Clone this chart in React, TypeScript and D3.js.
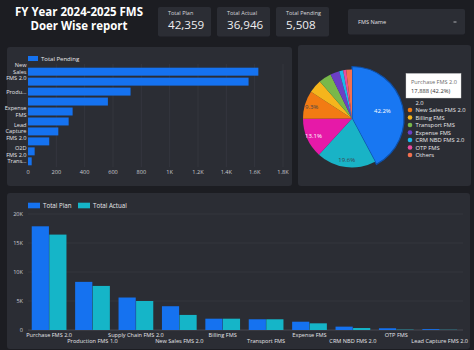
import * as d3 from "d3"

// bottom chart: plan vs actual per FMS
const categories = [
    "Purchase FMS 2.0",
    "Production FMS 1.0",
    "Supply Chain FMS 2.0",
    "New Sales FMS 2.0",
    "Billing FMS",
    "Transport FMS",
    "Expense FMS",
    "CRM NBD FMS 2.0",
    "OTP FMS",
    "Lead Capture FMS 2.0",
]
const totalPlan = [17880, 8300, 5600, 4100, 1950, 1850, 1430, 580, 300, 150]
const totalActual = [16450, 7600, 5000, 2600, 1950, 1850, 1150, 340, 60, 40]
const planTicks = [0, 5000, 10000, 15000, 20000]

// top-left chart: pending
const pendingCategories = [
    "New Sales FMS 2.0",
    "Purchase FMS 2.0",
    "Production FMS 1.0",
    "Supply Chain FMS 2.0",
    "Expense FMS",
    "CRM NBD FMS 2.0",
    "Lead Capture FMS 2.0",
    "Billing FMS",
    "O2D FMS 2.0",
    "Transport FMS",
]
const totalPending = [1626, 1557, 724, 564, 315, 287, 214, 150, 47, 26]
const pendingTickLabels = [
    ["New", "Sales", "FMS 2.0"],
    [],
    ["Produ..."],
    [],
    ["Expense", "FMS"],
    [],
    ["Lead", "Capture", "FMS 2.0"],
    [],
    ["O2D", "FMS 2.0"],
    ["Trans..."],
]
const pendingTicks = [0, 200, 400, 600, 800, 1000, 1200, 1400, 1600, 1800]

// pie: share of plan
const pieNames = [
    "Purchase FMS 2.0",
    "Production FMS 1.0",
    "Supply Chain FMS 2.0",
    "New Sales FMS 2.0",
    "Billing FMS",
    "Transport FMS",
    "Expense FMS",
    "CRM NBD FMS 2.0",
    "OTP FMS",
    "Others",
]
const pieShare = [42.2, 19.6, 13.1, 9.3, 4.4, 4.2, 3.0, 1.3, 1.0, 1.9]
const pieColors = [
    "#1877f2",
    "#19b3c6",
    "#e619a8",
    "#f27b13",
    "#f5b51c",
    "#78b84a",
    "#6b3fc6",
    "#1cb8ea",
    "#ea4b9e",
    "#f2704f",
]
const darkLabel = new Set([1, 3])

const kpis = [
    { label: "Total Plan", value: "42,359" },
    { label: "Total Actual", value: "36,946" },
    { label: "Total Pending", value: "5,508" },
]

const FONT = "'Open Sans', 'Noto Sans', sans-serif"
const BG = "#1c1d22"
const PANEL = "#2b2d34"
const GRID = "#3a3c45"
const AXIS_TXT = "#c9cad0"
const BLUE = "#1572f0"
const TEAL = "#15b5c8"

const fmtK = (v: number) => (v >= 1000 ? `${+(v / 1000).toFixed(1)}K` : `${v}`)

function PendingChart() {
    const x = d3.scaleLinear().domain([0, 1800]).range([28, 283])
    const y = d3
        .scaleBand()
        .domain(pendingCategories)
        .range([66.7, 166.3])
        .paddingInner(0.2)
        .paddingOuter(0.1)

    return (
        <g>
            <rect x={7} y={47} width={285} height={139} rx={3} fill={PANEL} />
            <rect x={28} y={56} width={10} height={5} fill={BLUE} />
            <text x={41} y={61} fontSize={6} fill="#e8e8ea">
                Total Pending
            </text>
            {pendingTicks.map((t) => (
                <g key={t}>
                    {t > 0 && (
                        <line x1={x(t)} x2={x(t)} y1={64} y2={167} stroke={GRID} strokeWidth={0.6} />
                    )}
                    <text x={x(t)} y={174} fontSize={5.6} fill={AXIS_TXT} textAnchor="middle">
                        {fmtK(t)}
                    </text>
                </g>
            ))}
            {pendingCategories.map((c, i) => (
                <rect
                    key={c}
                    x={x(0)}
                    y={y(c) ?? 0}
                    width={x(totalPending[i]) - x(0)}
                    height={y.bandwidth()}
                    fill={BLUE}
                />
            ))}
            {pendingCategories.map((c, i) => {
                const lines = pendingTickLabels[i]
                const cy = (y(c) ?? 0) + y.bandwidth() / 2
                const lh = 6.3
                return lines.map((ln, j) => (
                    <text
                        key={c + j}
                        x={26.5}
                        y={cy + (j - (lines.length - 1) / 2) * lh + 2}
                        fontSize={5.6}
                        fill="#e4e4e8"
                        textAnchor="end"
                    >
                        {ln}
                    </text>
                ))
            })}
        </g>
    )
}

function PieChart() {
    const cx = 352
    const cy = 118.5
    const r = 49
    const pie = d3
        .pie<number>()
        .sort(null)
        .value((d) => d)
    const arcs = pie(pieShare)
    const arc = d3.arc<d3.PieArcDatum<number>>().innerRadius(0)

    const legendY = (i: number) => (i < 3 ? 80 + i * 7.5 : 110 + (i - 3) * 7.5)
    // the hover tooltip hides the top legend rows
    const tipTop = 73.5
    const tipBottom = 98

    return (
        <g>
            <rect x={298} y={45} width={173} height={141} rx={3} fill={PANEL} />
            <g transform={`translate(${cx},${cy})`}>
                {arcs.map((a, i) => (
                    <path
                        key={pieNames[i]}
                        d={arc.outerRadius(i === 0 ? r + 3 : r)(a) || ""}
                        fill={pieColors[i]}
                        stroke={i === 0 ? "#0d4fa8" : "none"}
                        strokeWidth={i === 0 ? 1.2 : 0}
                    />
                ))}
                {arcs.map((a, i) => {
                    if (a.data < 5) return null
                    const mid = (a.startAngle + a.endAngle) / 2
                    const lr = a.data > 30 ? 0.64 * r : 0.86 * r
                    return (
                        <text
                            key={"l" + i}
                            x={Math.sin(mid) * lr}
                            y={-Math.cos(mid) * lr + 2}
                            fontSize={6}
                            textAnchor="middle"
                            fill={darkLabel.has(i) ? "#3b4650" : "#ffffff"}
                        >
                            {`${a.data.toFixed(1)}%`}
                        </text>
                    )
                })}
            </g>
            {pieNames.map((n, i) => {
                const ly = legendY(i)
                const wrapped = n === "Supply Chain FMS 2.0"
                const hidden = ly < tipBottom
                return (
                    <g key={n}>
                        {!hidden && (
                            <>
                                <circle cx={410} cy={ly} r={2.3} fill={pieColors[i]} />
                                <text x={415.5} y={ly + 2} fontSize={5.8} fill="#e8e8ea">
                                    {n}
                                </text>
                            </>
                        )}
                        {wrapped && ly + 7.5 > tipBottom && (
                            <text x={415.5} y={ly + 9.5} fontSize={5.8} fill="#e8e8ea">
                                2.0
                            </text>
                        )}
                    </g>
                )
            })}
            {/* hover tooltip */}
            <rect
                x={406}
                y={tipTop}
                width={55}
                height={tipBottom - tipTop}
                fill="#ffffff"
                stroke="#d8d8d8"
                strokeWidth={0.4}
            />
            <text x={411} y={83.5} fontSize={5.6} fill="#6b6b6b">
                {pieNames[0]}
            </text>
            <text x={411} y={93} fontSize={5.8} fill="#333333">
                17,888 (42.2%)
            </text>
        </g>
    )
}

function PlanActualChart() {
    const x0 = d3.scaleBand().domain(categories).range([27.4, 461.4]).paddingInner(0.2).paddingOuter(0.1)
    const x1 = d3.scaleBand().domain(["plan", "actual"]).range([0, x0.bandwidth()]).paddingInner(0.02)
    const y = d3.scaleLinear().domain([0, 20000]).range([330, 214])

    return (
        <g>
            <rect x={7} y={193} width={463} height={156} rx={3} fill={PANEL} />
            <rect x={28} y={202.7} width={12} height={5.6} fill={BLUE} />
            <text x={43} y={208} fontSize={6.2} fill="#e8e8ea">
                Total Plan
            </text>
            <rect x={78} y={202.7} width={12} height={5.6} fill={TEAL} />
            <text x={93} y={208} fontSize={6.2} fill="#e8e8ea">
                Total Actual
            </text>
            {planTicks.map((t) => (
                <g key={t}>
                    <line
                        x1={28}
                        x2={463}
                        y1={y(t)}
                        y2={y(t)}
                        stroke={t === 0 ? "#5a5c66" : GRID}
                        strokeWidth={0.6}
                    />
                    <text x={23} y={y(t) + 2} fontSize={5.6} fill={AXIS_TXT} textAnchor="end">
                        {fmtK(t)}
                    </text>
                </g>
            ))}
            {categories.map((c, i) => (
                <g key={c} transform={`translate(${x0(c) ?? 0},0)`}>
                    <rect
                        x={x1("plan")}
                        y={y(totalPlan[i])}
                        width={x1.bandwidth()}
                        height={y(0) - y(totalPlan[i])}
                        fill={BLUE}
                    />
                    <rect
                        x={x1("actual")}
                        y={y(totalActual[i])}
                        width={x1.bandwidth()}
                        height={y(0) - y(totalActual[i])}
                        fill={TEAL}
                    />
                    <text
                        x={x0.bandwidth() / 2}
                        y={i % 2 === 0 ? 337 : 343}
                        fontSize={5.6}
                        fill="#e4e4e8"
                        textAnchor="middle"
                    >
                        {c}
                    </text>
                </g>
            ))}
        </g>
    )
}

export default function App() {
    return (
        <div style={{ position: "absolute", left: 0, top: 0, width: 474, height: 350, background: BG }}>
            <svg width={474} height={350} style={{ display: "block", fontFamily: FONT }}>
                <rect width={474} height={350} fill={BG} />
                <text
                    x={79}
                    y={16}
                    fontSize={12.8}
                    fontWeight={700}
                    fill="#ffffff"
                    textAnchor="middle"
                    textLength={128}
                    lengthAdjust="spacingAndGlyphs"
                >
                    FY Year 2024-2025 FMS
                </text>
                <text
                    x={79}
                    y={29.5}
                    fontSize={12.8}
                    fontWeight={700}
                    fill="#ffffff"
                    textAnchor="middle"
                    textLength={97}
                    lengthAdjust="spacingAndGlyphs"
                >
                    Doer Wise report
                </text>
                {kpis.map((k, i) => {
                    const left = 158 + i * 59
                    return (
                        <g key={k.label}>
                            <rect x={left} y={7} width={53} height={29.5} rx={2} fill={PANEL} />
                            <text x={left + 10} y={14.8} fontSize={5.5} fill="#d8d8dc">
                                {k.label}
                            </text>
                            <text x={left + 10} y={28.8} fontSize={11.6} fill="#eeeef0">
                                {k.value}
                            </text>
                        </g>
                    )
                })}
                <rect x={348} y={9} width={117} height={25.5} rx={2} fill={PANEL} />
                <text x={358} y={23.5} fontSize={5.6} fill="#e0e0e4">
                    FMS Name
                </text>
                <line x1={453.5} x2={456.5} y1={22} y2={22} stroke="#cfcfd4" strokeWidth={0.8} />
                <PendingChart />
                <PieChart />
                <PlanActualChart />
            </svg>
        </div>
    )
}
